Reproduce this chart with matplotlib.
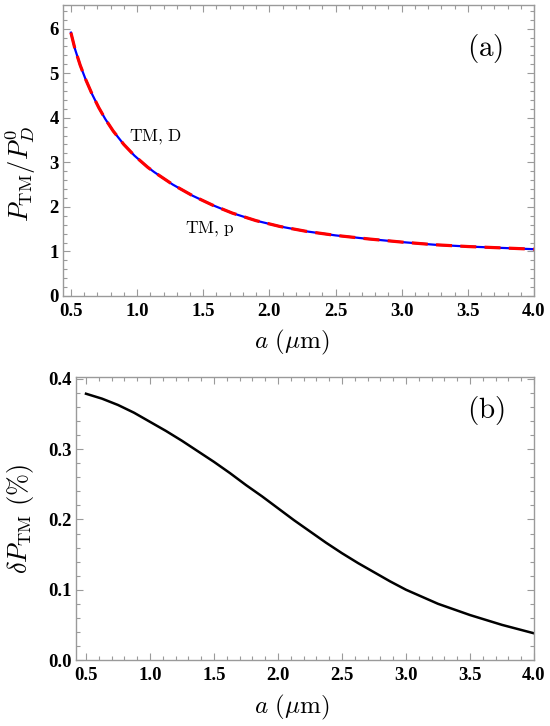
import matplotlib
matplotlib.use("Agg")
import matplotlib.pyplot as plt
from matplotlib.ticker import MultipleLocator, FormatStrFormatter

plt.rcParams['mathtext.fontset'] = 'cm'
plt.rcParams['font.family'] = ['Liberation Serif', 'DejaVu Serif']
plt.rcParams['font.weight'] = 'bold'

# panel (a): normalized power, dipole (D) and exact (p) results
a_top = [0.5, 0.53, 0.57, 0.61, 0.66, 0.71, 0.76, 0.82, 0.9, 0.98, 1.08, 1.13,
         1.27, 1.42, 1.57, 1.72, 1.9, 2.08, 2.28, 2.5, 2.75, 3.0, 3.25, 3.5,
         3.75, 4.0]
tm_D = [5.91, 5.55, 5.18, 4.87, 4.53, 4.23, 3.97, 3.70, 3.40, 3.15, 2.89, 2.78,
        2.50, 2.25, 2.04, 1.86, 1.69, 1.56, 1.45, 1.36, 1.28, 1.21, 1.15, 1.11,
        1.08, 1.05]
tm_p = [5.91, 5.55, 5.18, 4.87, 4.53, 4.23, 3.97, 3.70, 3.40, 3.15, 2.89, 2.78,
        2.50, 2.25, 2.04, 1.86, 1.69, 1.56, 1.45, 1.36, 1.28, 1.21, 1.15, 1.11,
        1.08, 1.05]

# panel (b): relative difference in percent
a_bot = [0.5, 0.625, 0.75, 0.875, 1.0, 1.125, 1.25, 1.375, 1.5, 1.625, 1.75,
         1.875, 2.0, 2.125, 2.25, 2.375, 2.5, 2.625, 2.75, 2.875, 3.0, 3.125,
         3.25, 3.375, 3.5, 3.625, 3.75, 3.875, 4.0]
dP = [0.379, 0.372, 0.363, 0.352, 0.339, 0.326, 0.312, 0.297, 0.282, 0.266,
      0.249, 0.233, 0.216, 0.199, 0.183, 0.167, 0.152, 0.138, 0.125, 0.112,
      0.100, 0.090, 0.080, 0.072, 0.064, 0.057, 0.050, 0.044, 0.038]

frame_col = '#9a9a9a'


def style_axes(ax, ymajor, yminor):
    for s in ax.spines.values():
        s.set_color(frame_col)
        s.set_linewidth(1.0)
    ax.xaxis.set_major_locator(MultipleLocator(0.5))
    ax.xaxis.set_minor_locator(MultipleLocator(0.1))
    ax.yaxis.set_major_locator(MultipleLocator(ymajor))
    ax.yaxis.set_minor_locator(MultipleLocator(yminor))
    ax.tick_params(which='both', direction='in', top=True, right=True,
                   color=frame_col, width=0.8, labelsize=13.5)
    ax.tick_params(which='major', length=5)
    ax.tick_params(which='minor', length=3)
    ax.tick_params(axis='x', pad=5)
    ax.tick_params(axis='y', pad=3)
    ax.xaxis.set_major_formatter(FormatStrFormatter('%.1f'))


fig = plt.figure(figsize=(5.5, 7.26), dpi=100)

ax1 = fig.add_axes([0.1145, 0.5923, 0.8564, 0.4008])
ax1.plot(a_top, tm_p, color='blue', lw=1.6)
ax1.plot(a_top, tm_D, color='red', lw=2.3, dashes=(5, 2.6))
ax1.set_xlim(0.44, 4.0)
ax1.set_ylim(0, 6.53)
style_axes(ax1, 1, 0.2)
ax1.set_xlabel(r'$a\ (\mu{\rm m})$', fontsize=18)
ax1.set_ylabel(r'$P_{\rm TM}/P_{D}^{0}$', fontsize=19)
ax1.xaxis.set_label_coords(0.486, -0.108)
ax1.yaxis.set_label_coords(-0.052, 0.42)
ax1.text(1.14, 3.46, r'$\mathrm{TM,\,D}$', fontsize=12.5, ha='center', va='baseline')
ax1.text(1.55, 1.40, r'$\mathrm{TM,\,p}$', fontsize=12.5, ha='center', va='baseline')
ax1.text(0.896, 0.849, r'$\mathrm{(a)}$', fontsize=21, ha='center', va='center',
         transform=ax1.transAxes)

ax2 = fig.add_axes([0.1382, 0.0909, 0.8327, 0.3898])
ax2.plot(a_bot, dP, color='black', lw=1.8)
ax2.set_xlim(0.422, 4.0)
ax2.set_ylim(0, 0.4028)
style_axes(ax2, 0.1, 0.02)
ax2.yaxis.set_major_formatter(FormatStrFormatter('%.1f'))
ax2.set_xlabel(r'$a\ (\mu{\rm m})$', fontsize=18)
ax2.set_ylabel(r'$\delta P_{\rm TM}\ (\%)$', fontsize=19)
ax2.xaxis.set_label_coords(0.47, -0.118)
ax2.yaxis.set_label_coords(-0.088, 0.50)
ax2.text(0.895, 0.883, r'$\mathrm{(b)}$', fontsize=21, ha='center', va='center',
         transform=ax2.transAxes)

fig.savefig('out.png', dpi=100)
